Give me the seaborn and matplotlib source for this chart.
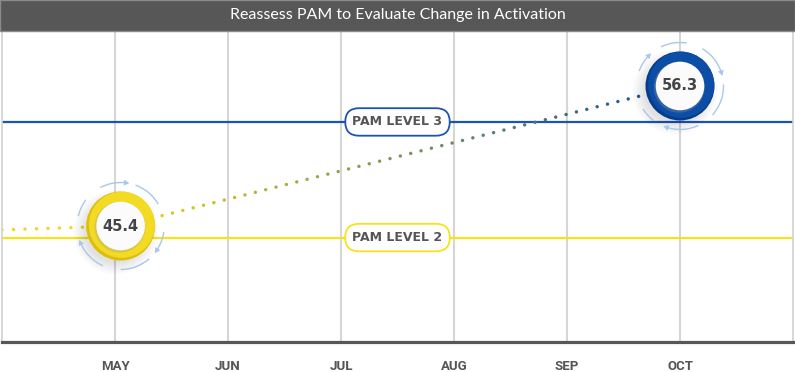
import numpy as np
import pandas as pd
import matplotlib
matplotlib.use("Agg")
import matplotlib.pyplot as plt
import seaborn as sns
from matplotlib.patches import Circle, Arc, Polygon, Rectangle
from matplotlib.collections import LineCollection
from matplotlib.transforms import ScaledTranslation
import matplotlib.colors as mcolors

# ---------------- data ----------------
title = "Reassess PAM to Evaluate Change in Activation"
months = ["MAY", "JUN", "JUL", "AUG", "SEP", "OCT"]
month_pos = [0, 1, 2, 3, 4, 5]
# previous trend (left edge), May assessment, October assessment
point_x = [-1.0, 0.05, 5.0]
point_y = [45.1, 45.4, 56.3]
point_labels = ["", "45.4", "56.3"]
level_names = ["PAM LEVEL 2", "PAM LEVEL 3"]
level_values = [44.5, 53.5]

# ---------------- style ----------------
sns.set_theme(style="white")
plt.rcParams["font.family"] = ["DejaVu Sans"]

YELLOW = "#F6E21C"
BLUE = "#1D55AE"
GRID = "#D6D6D6"
TEXT = "#555555"
ARC = "#A9C7EA"

fig = plt.figure(figsize=(7.95, 3.72), dpi=100)
ax = fig.add_axes([2 / 795, 30 / 372, 791 / 795, 311 / 372])
ax.set_xlim(-1, 6)
ax.set_ylim(36.37, 60.58)

# grid / spines
ax.set_xticks(month_pos)
ax.set_xticklabels(months, fontsize=9.5, fontweight="bold", color=TEXT, family=["Roboto", "DejaVu Sans"])
ax.set_yticks([])
ax.grid(True, axis="x", color=GRID, lw=1.5, zorder=0)
ax.tick_params(axis="x", length=0, pad=13)
ax.spines["top"].set_visible(False)
for s in ("left", "right"):
    ax.spines[s].set_color("#D2D2D2")
    ax.spines[s].set_linewidth(1.2)
ax.spines["bottom"].set_color("#575757")
ax.spines["bottom"].set_linewidth(2.3)

# level lines + labels
for name, val, col in zip(level_names, level_values, [YELLOW, BLUE]):
    ax.axhline(val, color=col, lw=1.6, zorder=1)
    ax.text(2.5, val, name, ha="center", va="center", fontsize=9, fontweight="bold",
            color=TEXT, zorder=3,
            bbox=dict(boxstyle="round,pad=0.58,rounding_size=1.1", fc="white", ec=col, lw=1.3))

# left dotted segment (trend into May)
df_prev = pd.DataFrame({"x": point_x[:2], "y": point_y[:2]})
sns.lineplot(data=df_prev, x="x", y="y", ax=ax, color="#EFD81E", lw=2.5,
             linestyle=(0, (0.01, 3.3)), dash_capstyle="round", zorder=2)
ax.set_xlabel("")
ax.set_ylabel("")

# gradient dotted segment May -> Oct
fig.canvas.draw()
p0 = ax.transData.transform((point_x[1], point_y[1]))
p1 = ax.transData.transform((point_x[2], point_y[2]))
L = np.hypot(*(p1 - p0))
n = int(round(L / 10.7))
t = np.arange(n + 1) / n
xs = point_x[1] + (point_x[2] - point_x[1]) * t
ys = point_y[1] + (point_y[2] - point_y[1]) * t
segs = np.stack([np.column_stack([xs[:-1], ys[:-1]]), np.column_stack([xs[1:], ys[1:]])], axis=1)
c0 = np.array(mcolors.to_rgb("#EAD51C"))
c1 = np.array(mcolors.to_rgb("#14519F"))
cols = [tuple(c0 + (c1 - c0) * f) for f in t[:-1]]
lc = LineCollection(segs, colors=cols, linewidths=2.5, linestyles=[(0, (0.01, 1000))], zorder=2)
lc.set_capstyle("round")
ax.add_collection(lc)


def bubble(x, y, label, dark, light, arcs):
    tr = fig.dpi_scale_trans + ScaledTranslation(x, y, ax.transData)
    # soft drop shadow toward lower left
    for k in range(6):
        ax.add_patch(Circle((-0.05, -0.06), 0.31 + 0.022 * k, fc="black", ec="none",
                            alpha=0.018, transform=tr, zorder=6))
    ax.add_patch(Circle((0, 0), 0.345, fc=dark, ec="none", transform=tr, zorder=7))
    ax.add_patch(Circle((0.012, 0.012), 0.33, fc=light, ec="none", transform=tr, zorder=8))
    ax.add_patch(Circle((-0.008, -0.012), 0.255, fc="#9A9A9A", ec="none", alpha=0.3,
                        transform=tr, zorder=9))
    ax.add_patch(Circle((0, 0), 0.243, fc="#FBFBFB", ec="none", transform=tr, zorder=10))
    ax.text(x, y, label, ha="center", va="center", fontsize=10.5, fontweight="bold",
            color="#444444", zorder=12)
    r = 0.435
    for a1, a2, head in arcs:
        ax.add_patch(Arc((0, 0), 2 * r, 2 * r, theta1=a1, theta2=a2, color=ARC, lw=1.0,
                         transform=tr, zorder=11))
        if head:
            th = np.radians(a1)
            P = np.array([r * np.cos(th), r * np.sin(th)])
            tg = np.array([np.sin(th), -np.cos(th)])
            nr = np.array([np.cos(th), np.sin(th)])
            tip = P + tg * 0.035
            base = P - tg * 0.02
            ax.add_patch(Polygon([tip, base + nr * 0.03, base - nr * 0.03], closed=True,
                                 fc=ARC, ec="none", transform=tr, zorder=11))


bubble(point_x[1], point_y[1], point_labels[1], "#DDBE0C", "#F3DB24",
       [(83, 118, True), (30, 70, False), (-34, -8, True), (-90, -49, False),
        (203, 246, True), (143, 167, False)])
bubble(point_x[2], point_y[2], point_labels[2], "#073C8C", "#0C4EA6",
       [(136, 160, True), (81, 116, False), (18, 59, True), (-42, 2, False),
        (-108, -65, True), (-148, -127, False)])

# title bar
fig.add_artist(Rectangle((0, 341 / 372), 1, 31 / 372, transform=fig.transFigure,
                         fc="#575757", ec="#8A8A8A", lw=1.0))
fig.text(0.5, 1 - 15.5 / 372, title, ha="center", va="center", color="white",
         fontsize=11.5, family=["Lato", "DejaVu Sans"])

fig.savefig("out.png", dpi=100)
